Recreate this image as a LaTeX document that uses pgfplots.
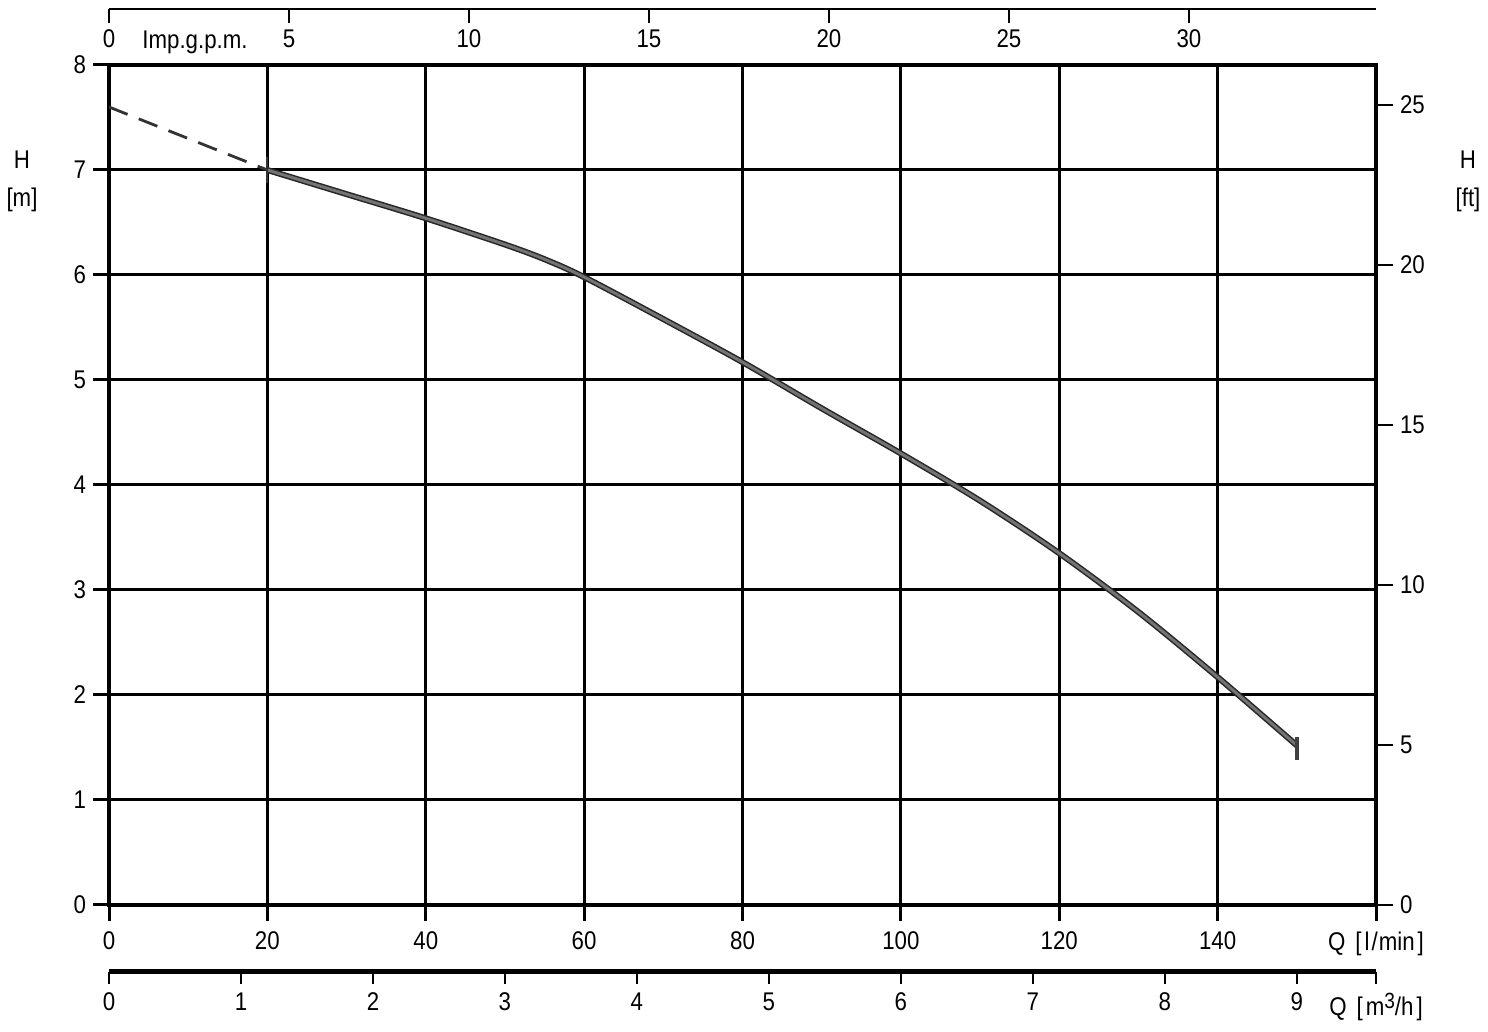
\documentclass[border=0pt]{standalone}
\usepackage{fontspec}
\setmainfont{Liberation Sans}[FakeStretch=0.87]
\usepackage{pgfplots}
\pgfplotsset{compat=1.18}
\newcommand\lf{\fontsize{12.8}{15}\selectfont}

\begin{document}
\begin{tikzpicture}
\useasboundingbox (0,0) rectangle (744pt,516pt);

% main chart: H [m] over Q [l/min]
\begin{axis}[
  at={(54.5pt,63.5pt)}, anchor=south west,
  width=633.5pt, height=420pt, scale only axis,
  xmin=0, xmax=160, ymin=0, ymax=8,
  xtick={0,20,...,160},
  xticklabels={0,20,40,60,80,100,120,140,{Q\hspace{5pt}[\hspace{1.5pt}l\hspace{1pt}/\hspace{0.5pt}min\hspace{1.5pt}]}},
  ytick={0,...,8},
  xtick pos=bottom, ytick pos=left,
  grid=major, major grid style={black, line width=1.5pt},
  axis line style={black, line width=1.7pt},
  tick align=outside, major tick length=8pt,
  major tick style={black, line width=1.5pt},
  tick label style={font=\lf},
  xticklabel style={yshift=-2pt},
  /pgf/number format/assume math mode=true,
]
\addplot[black!80, line width=1.4pt, dash pattern=on 10pt off 6pt]
  coordinates {(0,7.6) (20,7.0)};
\addplot[black!85, line width=3pt, smooth] coordinates {
  (20,7.0) (30,6.77) (40,6.54) (50,6.29) (55,6.15) (60,5.98)
  (70,5.58) (80,5.17) (90,4.73) (100,4.30) (110,3.85)
  (120,3.35) (130,2.79) (140,2.17) (150,1.52)
};
\addplot[black!55, line width=1.5pt, smooth] coordinates {
  (20,7.0) (30,6.77) (40,6.54) (50,6.29) (55,6.15) (60,5.98)
  (70,5.58) (80,5.17) (90,4.73) (100,4.30) (110,3.85)
  (120,3.35) (130,2.79) (140,2.17) (150,1.52)
};
\addplot[black!80, line width=1pt] coordinates {(20,6.88) (20,7.12)};
\addplot[black!75, line width=2pt] coordinates {(150,1.38) (150,1.6)};
\end{axis}

% right axis: H [ft]
\begin{axis}[
  at={(54.5pt,63.5pt)}, anchor=south west,
  width=633.5pt, height=420pt, scale only axis,
  xmin=0, xmax=160, ymin=0, ymax=26.2467,
  axis x line=none, axis y line*=right,
  axis line style={-, black, line width=1.7pt},
  ytick={0,5,...,25},
  tick align=outside, major tick length=8.5pt,
  major tick style={black, line width=1pt},
  tick label style={font=\lf},
  /pgf/number format/assume math mode=true,
]
\end{axis}

% top axis: Imp.g.p.m.
\begin{axis}[
  at={(54.5pt,511.5pt)}, anchor=south west,
  width=633.5pt, height=10pt, scale only axis,
  xmin=0, xmax=35.196, ymin=0, ymax=1,
  axis x line*=bottom, axis y line=none,
  axis line style={-, black, line width=1.4pt},
  xtick={0,5,...,30},
  tick align=outside, major tick length=7pt,
  major tick style={black, line width=0.9pt},
  tick label style={font=\lf},
  /pgf/number format/assume math mode=true,
]
\end{axis}

% bottom axis: m3/h
\begin{axis}[
  at={(54.5pt,30pt)}, anchor=south west,
  width=633.5pt, height=10pt, scale only axis,
  xmin=0, xmax=9.6, ymin=0, ymax=1,
  axis x line*=bottom, axis y line=none,
  axis line style={-, black, line width=2.5pt},
  xtick={0,...,9},
  extra x ticks={9.6},
  extra x tick labels={{Q\hspace{5pt}[\hspace{1.5pt}m\raisebox{0.5ex}{\fontsize{11}{12}\selectfont 3}/h\hspace{1.5pt}]}},
  tick align=outside, major tick length=6pt,
  major tick style={black, line width=0.8pt},
  tick label style={font=\lf},
  xticklabel style={yshift=-1pt},
  /pgf/number format/assume math mode=true,
]
\end{axis}

\node[font=\lf] at (97.5pt,495pt) {Imp.g.p.m.};
\node[font=\lf] at (11pt,436pt) {H};
\node[font=\lf] at (11pt,416pt) {[m]};
\node[font=\lf] at (734pt,436pt) {H};
\node[font=\lf] at (734pt,416pt) {[ft]};
\end{tikzpicture}
\end{document}
